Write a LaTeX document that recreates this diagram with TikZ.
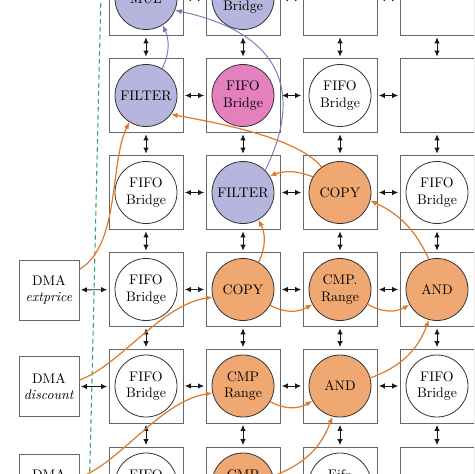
\documentclass[tikz,border=0pt]{standalone}
\usetikzlibrary{arrows.meta}
\definecolor{purp}{RGB}{181,181,222}
\definecolor{pinkf}{RGB}{228,128,190}
\definecolor{orf}{RGB}{240,168,115}
\definecolor{orl}{RGB}{222,122,40}
\definecolor{purl}{RGB}{120,120,188}
\definecolor{grn}{RGB}{50,160,130}
\begin{document}
\begin{tikzpicture}[x=0.75pt,y=-0.75pt,
  every node/.style={font=\fontsize{10.4}{12.2}\selectfont},
  tile/.style={draw=black!60, line width=0.7pt, minimum size=55.5pt, inner sep=0pt},
  unit/.style={circle, draw=black!80, line width=0.6pt, minimum size=46.5pt, inner sep=0pt, align=center, text=black},
  wu/.style={unit, fill=white},
  pu/.style={unit, fill=purp},
  ku/.style={unit, fill=pinkf},
  ou/.style={unit, fill=orf},
  dmabox/.style={draw=black!60, line width=0.7pt, minimum size=45pt, inner sep=0pt, align=center},
  dbl/.style={{Latex[length=4.5pt,width=4pt]}-{Latex[length=4.5pt,width=4pt]}, line width=0.7pt, black!90, shorten <=1pt, shorten >=1pt},
  oarr/.style={draw=orl, line width=0.9pt, -{Latex[length=5pt,width=4pt]}},
  parr/.style={draw=purl, line width=0.7pt, -{Latex[length=5pt,width=4pt]}}
]
\useasboundingbox (0,0) rectangle (474,474);
\clip (0,0) rectangle (474,474);
\fill[white] (0,0) rectangle (474,474);

% boxes
\foreach \r/\y in {0/-1.5,1/95.5,2/192.5,3/289.5,4/386,5/484}{
  \foreach \c/\x in {1/146,2/243,3/340,4/437}{
    \node[tile] (b\r\c) at (\x,\y) {};
  }
}
% units
\node[pu] (u01) at (b01) {MUL};
\node[pu] (u02) at (b02) {FIFO\\Bridge};
\node[pu] (u11) at (b11) {FILTER};
\node[ku] (u12) at (b12) {FIFO\\Bridge};
\node[wu] (u13) at (b13) {FIFO\\Bridge};
\node[wu] (u21) at (b21) {FIFO\\Bridge};
\node[pu] (u22) at (b22) {FILTER};
\node[ou] (u23) at (b23) {COPY};
\node[wu] (u24) at (b24) {FIFO\\Bridge};
\node[wu] (u31) at (b31) {FIFO\\Bridge};
\node[ou] (u32) at (b32) {COPY};
\node[ou] (u33) at (b33) {CMP.\\Range};
\node[ou] (u34) at (b34) {AND};
\node[wu] (u41) at (b41) {FIFO\\Bridge};
\node[ou] (u42) at (b42) {CMP\\Range};
\node[ou] (u43) at (b43) {AND};
\node[wu] (u44) at (b44) {FIFO\\Bridge};
\node[wu] (u51) at (b51) {FIFO\\Bridge};
\node[ou] (u52) at (b52) {CMP\\Range};
\node[wu] (u53) at (b53) {Fifo\\\phantom{Bridge}};

% DMA
\node[dmabox] (dma1) at (49,290) {DMA\\\textit{extprice}};
\node[dmabox] (dma2) at (49,386.5) {DMA\\\textit{discount}};
\node[dmabox] (dma3) at (49,484) {DMA\\\phantom{\textit{quantity}}};

% green dashed boundary
\draw[grn, line width=0.8pt, dash pattern=on 3.5pt off 2.5pt] (101,-5) .. controls (97,150) and (93,350) .. (89.5,480);

% double arrows
\foreach \r in {0,1,2,3,4,5}{
  \draw[dbl] (b\r1) -- (b\r2);
  \draw[dbl] (b\r2) -- (b\r3);
  \draw[dbl] (b\r3) -- (b\r4);
}
\foreach \c in {1,2,3,4}{
  \draw[dbl] (b0\c) -- (b1\c);
  \draw[dbl] (b1\c) -- (b2\c);
  \draw[dbl] (b2\c) -- (b3\c);
  \draw[dbl] (b3\c) -- (b4\c);
  \draw[dbl] (b4\c) -- (b5\c);
}
\draw[dbl] (dma1) -- (b31);
\draw[dbl] (dma2.east) -- (b41.west |- dma2.east);
\draw[dbl] (dma3) -- (b51);

% orange dataflow
\draw[oarr] (dma1.34) .. controls +(41,-25) and +(-20,41) .. (u11.238);
\draw[oarr] (u23.126) .. controls (300,140) and (230,125) .. (u11.323);
\draw[oarr] (u23.150) to[bend right=20] (u22.32);
\draw[oarr] (u32.60) to[bend right=25] (u22.300);
\draw[oarr] (dma2.12) .. controls +(41,-15) and +(-52,8) .. (u32.194);
\draw[oarr] (u32.330) to[bend right=30] (u33.208);
\draw[oarr] (u33.332) to[bend right=30] (u34.209);
\draw[oarr] (u34.105) to[bend right=20] (u23.345);
\draw[oarr] (dma3.12) .. controls +(41,-15) and +(-52,8) .. (u42.193);
\draw[oarr] (u42.330) to[bend right=30] (u43.208);
\draw[oarr] (u52.15) to[bend right=25] (u43.256);
\draw[oarr] (u43.15) to[bend right=25] (u34.255);

% purple dataflow
\draw[parr] (u11.59) to[bend right=25] (u01.302);
\draw[parr] (u22.45) .. controls (300,100) and (290,35) .. (u01.338);
\end{tikzpicture}
\end{document}
